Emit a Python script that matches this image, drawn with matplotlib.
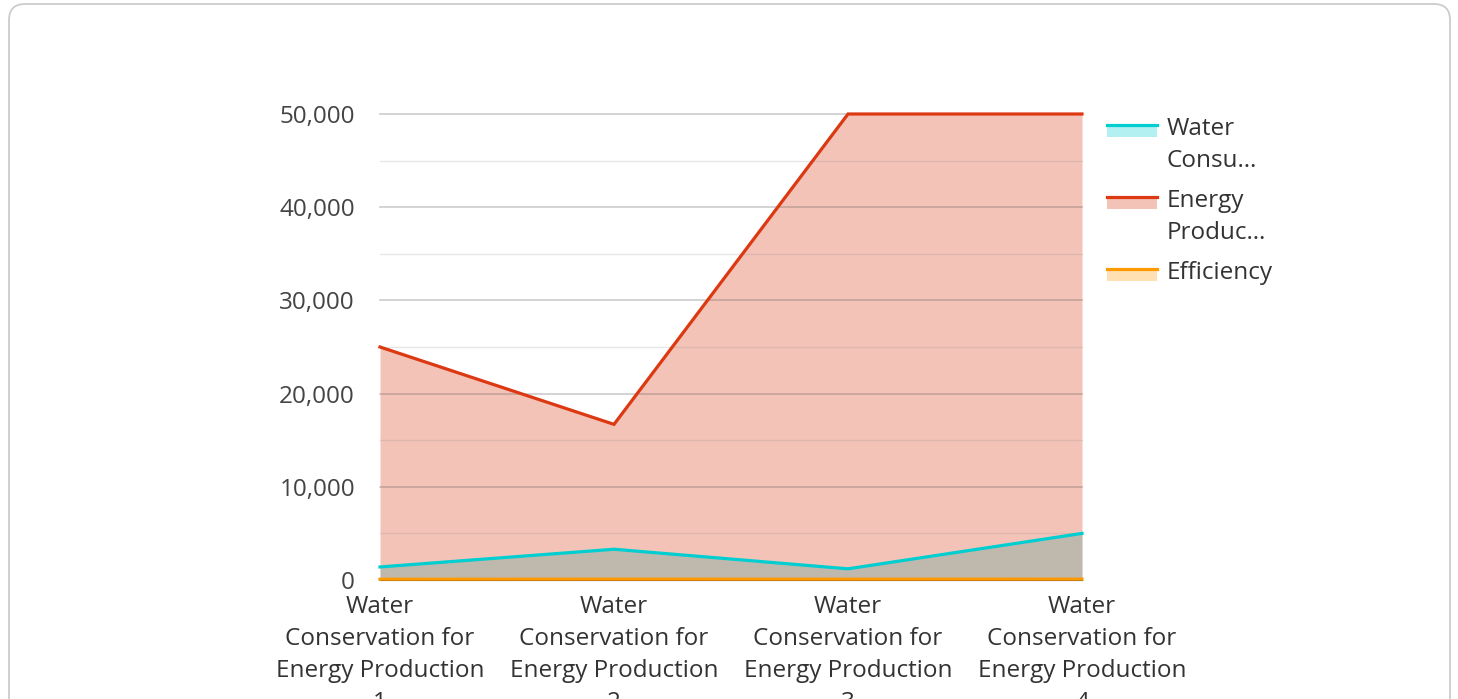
import matplotlib.pyplot as plt
from matplotlib.patches import FancyBboxPatch, Rectangle
from matplotlib.lines import Line2D
from matplotlib.transforms import IdentityTransform
from matplotlib.ticker import FuncFormatter, MultipleLocator

plt.rcParams['font.family'] = ['Open Sans', 'DejaVu Sans']

# Data
categories = ["Water\nConservation for\nEnergy Production\n1",
              "Water\nConservation for\nEnergy Production\n2",
              "Water\nConservation for\nEnergy Production\n3",
              "Water\nConservation for\nEnergy Production\n4"]
water_consumption = [1400, 3300, 1200, 5000]
energy_production = [25000, 16700, 50000, 50000]
efficiency = [85, 90, 88, 92]

series_names = ["Water\nConsu…", "Energy\nProduc…", "Efficiency"]
series_colors = ["#00CED1", "#DC3912", "#FF9900"]
series_values = [water_consumption, energy_production, efficiency]

W, H = 1458, 699
FS = 17.5
fig = plt.figure(figsize=(W / 100, H / 100), dpi=100)
px = IdentityTransform()  # pixel coords, origin bottom-left

# rounded card outline, running off the bottom edge
card = FancyBboxPatch((9, -60), 1441, H - 4 + 60,
                      boxstyle="round,pad=0,rounding_size=16",
                      transform=px, facecolor="white",
                      edgecolor="#cccccc", linewidth=1.3, zorder=-10)
fig.patches.append(card)

ax = fig.add_axes([380 / W, (H - 580) / H, 702 / W, 466 / H])
ax.patch.set_alpha(0)

x = list(range(len(categories)))

# fills first, lines on top
for vals, col in zip(series_values, series_colors):
    ax.fill_between(x, 0, vals, color=col, alpha=0.3, linewidth=0, zorder=2)
for vals, col in zip(series_values, series_colors):
    ax.plot(x, vals, color=col, linewidth=2.3, zorder=4, clip_on=False,
            solid_joinstyle="miter")

ax.set_xlim(0, 3)
ax.set_ylim(0, 50000)
ax.yaxis.set_major_locator(MultipleLocator(10000))
ax.yaxis.set_minor_locator(MultipleLocator(5000))
ax.yaxis.set_major_formatter(FuncFormatter(lambda v, p: f"{int(v):,}"))
ax.grid(which="major", axis="y", color="#555555", alpha=0.3, linewidth=1.2, zorder=3)
ax.grid(which="minor", axis="y", color="#888888", alpha=0.2, linewidth=1.0, zorder=3)
ax.set_axisbelow(False)

ax.set_xticks(x)
ax.set_xticklabels(categories, fontsize=FS, color="#333333", linespacing=1.44)
ax.tick_params(axis="x", length=0, pad=11)
ax.tick_params(axis="y", which="both", length=0, pad=18, labelsize=FS, labelcolor="#444444")

for s in ["top", "right", "left"]:
    ax.spines[s].set_visible(False)
ax.spines["bottom"].set_color("#333333")
ax.spines["bottom"].set_zorder(3)

fig.canvas.draw()
for gl in ax.get_ygridlines() + ax.yaxis.get_minorticklines():
    gl.set_clip_on(False)
for t in ax.yaxis.get_major_ticks() + ax.yaxis.get_minor_ticks():
    t.gridline.set_clip_on(False)

# legend: swatch with line along its top edge, label to the right
leg_x, leg_w = 1107, 50
for i, (name, col) in enumerate(zip(series_names, series_colors)):
    top = 123 + i * 72
    fig.patches.append(Rectangle((leg_x, H - top - 14), leg_w, 12,
                                 transform=px, facecolor=col, alpha=0.3, linewidth=0))
    fig.lines.append(Line2D([leg_x, leg_x + leg_w], [H - top - 1.5, H - top - 1.5],
                            transform=px, color=col, linewidth=2.3))
    fig.text(1167 / W, (H - top + 6) / H, name, fontsize=FS, color="#333333",
             va="top", ha="left", linespacing=1.44)

fig.savefig("out.png", dpi=100)
